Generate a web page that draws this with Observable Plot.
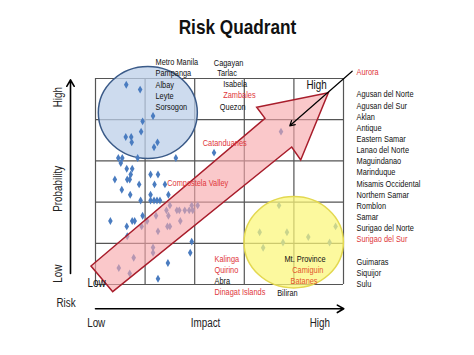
<!DOCTYPE html>
<html>
<head>
<meta charset="utf-8">
<script src="https://cdn.jsdelivr.net/npm/d3@7"></script>
<script src="https://cdn.jsdelivr.net/npm/@observablehq/plot@0.6"></script>
<style>
  html, body { margin: 0; padding: 0; background: #fff; }
  svg { font-family: "Liberation Sans", Arial, sans-serif; }
</style>
</head>
<body>
<div id="chart"></div>
<script>
// Impact (x) / Probability (y) scores of provinces, on a 0–5 scale
const impact = [0.62,0.90,1.16,0.95,0.92,0.61,0.72,0.73,1.25,1.18,0.46,0.54,0.85,1.62,2.39,0.51,0.63,0.74,0.71,0.39,0.64,0.69,0.88,1.11,1.26,1.19,1.40,0.53,0.70,1.11,1.47,0.91,1.11,1.18,1.24,1.30,1.50,1.94,2.06,1.43,1.64,1.69,1.80,1.89,1.96,0.95,1.22,1.47,0.30,0.74,0.79,1.04,1.71,0.63,0.93,1.45,1.50,1.26,0.64,1.94,1.16,1.16,1.91,0.77,1.46,0.47,0.69,1.26,3.74,3.70,3.31,3.86,4.29,4.84,3.78,4.72,3.38];
const probability = [4.85,4.73,4.09,3.96,3.71,3.58,3.58,3.45,3.45,3.33,3.07,3.07,3.07,3.07,3.20,2.95,2.81,2.81,2.67,2.55,2.55,2.55,2.43,2.67,2.67,2.43,2.43,2.30,2.18,2.18,2.18,2.04,2.04,2.04,2.04,2.04,1.92,1.92,1.92,1.80,1.80,1.80,1.80,1.80,1.80,1.67,1.67,1.67,1.54,1.54,1.54,1.54,1.54,1.41,1.41,1.41,1.41,1.29,1.17,1.04,0.90,0.77,0.77,0.65,0.52,0.40,0.27,0.14,3.71,1.92,1.27,1.27,1.15,1.41,1.02,1.02,0.89];

// Province names shown on the chart
const labelNames = ["Metro Manila","Pampanga","Albay","Leyte","Sorsogon","Cagayan","Tarlac","Isabela","Zambales","Quezon","Catanduanes","Compostela Valley","Kalinga","Quirino","Abra","Dinagat Islands","Mt. Province","Camiguin","Batanes","Biliran"];
const listNames = ["Aurora","","Agusan del Norte","Agusan del Sur","Aklan","Antique","Eastern Samar","Lanao del Norte","Maguindanao","Marinduque","Misamis Occidental","Northern Samar","Romblon","Samar","Surigao del Norte","Surigao del Sur","","Guimaras","Siquijor","Sulu"];
const redNames = ["Aurora","Zambales","Catanduanes","Compostela Valley","Surigao del Sur","Kalinga","Quirino","Dinagat Islands"];
const orangeNames = ["Camiguin","Batanes"]; // red names seen through the yellow zone

// Tick labels
const xTickLabels = ["Low","Impact","High"];
const yTickLabels = ["Low","Probability","High"];

// ---- layout (data units of the impact/probability scales) ----
const labelX = [1.21,1.21,1.21,1.21,1.21,2.385,2.454,2.575,2.575,2.506,2.163,1.446,2.399,2.399,2.399,2.399,3.81,3.966,3.931,3.663];
const labelY = [5.388,5.121,4.842,4.563,4.296,5.381,5.121,4.854,4.587,4.303,3.439,2.468,0.607,0.340,0.073,-0.194,0.614,0.340,0.080,-0.201];
const listX = 5.262, listTop = 5.153, listStep = 0.2705;
const arrowShape = [[0.357,-0.187],[3.966,3.325],[4.147,3.010],[4.704,4.643],[3.260,4.289],[3.427,4.022],[-0.081,0.437]];
const blueEllipse = {cx: 1.065, cy: 4.163, rx: 0.998, ry: 1.117};
const yellowEllipse = {cx: 4.006, cy: 1.013, rx: 1.002, ry: 1.109};

const points = impact.map((v, i) => ({impact: v, probability: probability[i]}));
const labels = labelNames.map((n, i) => ({name: n, x: labelX[i], y: labelY[i]}));
const list = listNames.map((n, i) => ({name: n, x: listX, y: listTop - i * listStep})).filter(d => d.name);
const colorOf = d => redNames.includes(d.name) ? "#e0363b" : orangeNames.includes(d.name) ? "#e2572c" : "#111";

function ellipseMark(e, fill, fillOpacity, stroke) {
  return (index, {x, y}) => {
    const cx = x(e.cx), cy = y(e.cy);
    const rx = Math.abs(x(e.cx + e.rx) - cx), ry = Math.abs(y(e.cy + e.ry) - cy);
    return d3.create("svg:ellipse")
      .attr("cx", cx).attr("cy", cy).attr("rx", rx).attr("ry", ry)
      .attr("fill", fill).attr("fill-opacity", fillOpacity)
      .attr("stroke", stroke).attr("stroke-width", 1.5).node();
  };
}
function polygonMark(pts, fill, fillOpacity, stroke) {
  return (index, {x, y}) => d3.create("svg:polygon")
    .attr("points", pts.map(([a, b]) => `${x(a)},${y(b)}`).join(" "))
    .attr("fill", fill).attr("fill-opacity", fillOpacity)
    .attr("stroke", stroke).attr("stroke-width", 1.5).attr("stroke-linejoin", "miter").node();
}

const grid = [0,1,2,3,4,5];
const txt = {fontSize: 9, textAnchor: "start"};

const chart = Plot.plot({
  width: 474, height: 355,
  marginLeft: 95, marginRight: 131, marginTop: 78, marginBottom: 71,
  x: {domain: [0, 5], axis: null},
  y: {domain: [0, 5], axis: null},
  style: {background: "#fff", overflow: "visible"},
  marks: [
    Plot.ruleX(grid, {x: d => d, stroke: "#555", strokeWidth: 1.2}),
    Plot.ruleY(grid, {y: d => d, stroke: "#555", strokeWidth: 1.2}),
    ellipseMark(blueEllipse, "#bccfe8", 0.75, "#3a5a88"),
    Plot.dot(points, {x: "impact", y: "probability", symbol: "diamond", r: 2.4, fill: "#4a7cc0"}),
    polygonMark(arrowShape, "#f7a6aa", 0.62, "#a81d2b"),
    ellipseMark(yellowEllipse, "#fbf678", 0.72, "#e3d850"),
    Plot.text(labels, {x: "x", y: "y", text: "name", fill: colorOf, ...txt}),
    Plot.text(list, {x: "x", y: "y", text: "name", fill: colorOf, ...txt}),
    Plot.arrow([{x1: 5.175, y1: 5.177, x2: 3.917, y2: 3.852}], {x1: "x1", y1: "y1", x2: "x2", y2: "y2", stroke: "#000", strokeWidth: 1.2, headLength: 7}),
    Plot.text(["High"], {x: 4.456, y: 4.847, fontSize: 12, fill: "#111"}),
    Plot.text(["Low"], {x: 0.02, y: 0.04, fontSize: 12, fill: "#111"}),
    // Axis arrows
    Plot.arrow([{x1: -0.504, y1: 0.267, x2: -0.504, y2: 4.968}], {x1: "x1", y1: "y1", x2: "x2", y2: "y2", stroke: "#000", strokeWidth: 1.6, headLength: 7}),
    Plot.arrow([{x1: 0, y1: -0.59, x2: 5.006, y2: -0.59}], {x1: "x1", y1: "y1", x2: "x2", y2: "y2", stroke: "#000", strokeWidth: 1.6, headLength: 7}),
    Plot.text(yTickLabels, {x: -0.76, y: [0.26, 2.323, 4.546], text: d => d, rotate: -90, fontSize: 12, fill: "#222"}),
    Plot.text(xTickLabels, {x: [0.014, 2.218, 4.522], y: -0.939, text: d => d, textAnchor: (d, i) => i === 0 ? "start" : "middle", fontSize: 12, fill: "#222"}),
    Plot.text(["Risk"], {x: -0.595, y: -0.444, fontSize: 12, fill: "#222"}),
    Plot.text(["Risk Quadrant"], {x: 2.863, y: 6.25, fontSize: 21, fontWeight: "bold", fill: "#111"})
  ]
});
document.getElementById("chart").append(chart);

// Emulate the narrow (Arial Narrow–like) typeface of the original by condensing glyphs
d3.select(chart).selectAll("text").each(function() {
  const w = this.getComputedTextLength();
  if (w > 0) {
    this.setAttribute("lengthAdjust", "spacingAndGlyphs");
    this.setAttribute("textLength", (w * 0.82).toFixed(2));
  }
});
</script>
</body>
</html>
